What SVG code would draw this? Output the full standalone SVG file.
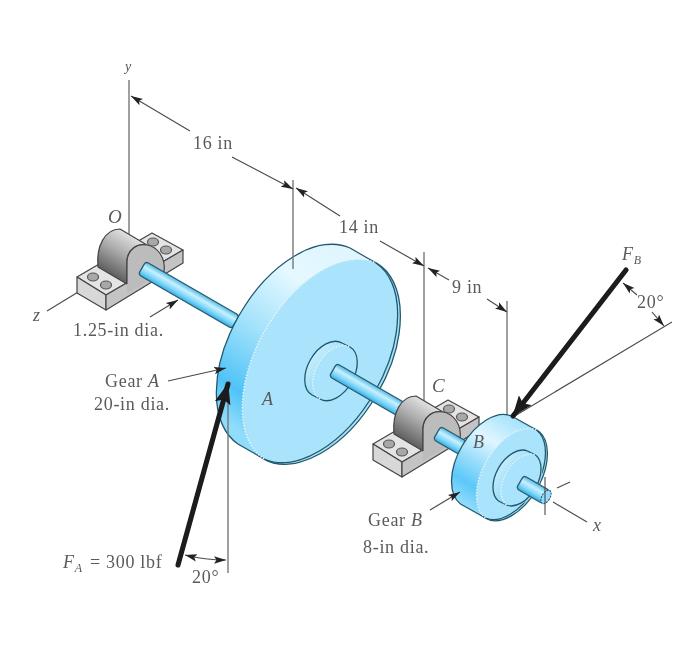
<svg xmlns="http://www.w3.org/2000/svg" width="679" height="658" viewBox="0 0 679 658">
<style>
.t{font-family:"Liberation Serif",serif;font-size:18px;letter-spacing:.7px;fill:#5a5a5a}
.i{font-style:italic}
.sub{font-size:12px;font-style:italic}
.thin{fill:none;stroke:#4a4a4a;stroke-width:1.1}
.ext{fill:none;stroke:#777;stroke-width:1.4}
.force{fill:none;stroke:#1a1a1a;stroke-width:5;stroke-linecap:round}
.shaft{fill:url(#shaftG);stroke:#2b5c6e;stroke-width:1.3}
.edge{stroke:#22596d;stroke-width:1.3}
.dot{fill:none;stroke:#e8f3f6;stroke-width:1.5;stroke-dasharray:1.5 1.5}
.face{fill:#a9e4fc}
.br{stroke:#444;stroke-width:1.2;stroke-linejoin:round}
.hole{fill:#a8a8a8;stroke:#555;stroke-width:1.2}
</style>
<defs>
<filter id="soft" x="0" y="0" width="100%" height="100%"><feGaussianBlur stdDeviation="0.55"/></filter>
<marker id="a" markerWidth="13" markerHeight="9" refX="12" refY="4.5" orient="auto-start-reverse" markerUnits="userSpaceOnUse"><path d="M0,0.8 L12,4.5 L0,8.2 L2.5,4.5 Z" fill="#222"/></marker>
<marker id="f" markerWidth="22" markerHeight="16" refX="20" refY="8" orient="auto" markerUnits="userSpaceOnUse"><path d="M0,0 L21,8 L0,16 L4,8 Z" fill="#1a1a1a"/></marker>
<linearGradient id="shaftG" x1="0" y1="0" x2="0" y2="1"><stop offset="0" stop-color="#4fb9e6"/><stop offset=".35" stop-color="#c9f1ff"/><stop offset=".7" stop-color="#7ed6fa"/><stop offset="1" stop-color="#36aee2"/></linearGradient>
<linearGradient id="rimA" gradientUnits="userSpaceOnUse" x1="345" y1="250" x2="225" y2="420"><stop offset="0" stop-color="#dff6ff"/><stop offset=".25" stop-color="#e4f8ff"/><stop offset=".55" stop-color="#a4e2fb"/><stop offset=".85" stop-color="#4fc3f7"/><stop offset="1" stop-color="#8fdcfb"/></linearGradient>
<linearGradient id="rimB" gradientUnits="userSpaceOnUse" x1="510" y1="418" x2="458" y2="500"><stop offset="0" stop-color="#a9e4fc"/><stop offset=".3" stop-color="#dff6ff"/><stop offset=".8" stop-color="#5cc8f8"/><stop offset="1" stop-color="#8fdcfb"/></linearGradient>
<linearGradient id="hub" x1="0" y1="0" x2="1" y2="1"><stop offset="0" stop-color="#e6f8ff"/><stop offset="1" stop-color="#58c4f4"/></linearGradient>
<linearGradient id="cap" gradientUnits="userSpaceOnUse" x1="130" y1="232" x2="106" y2="272"><stop offset="0" stop-color="#e8e8e8"/><stop offset=".5" stop-color="#a8a8a8"/><stop offset="1" stop-color="#5e5e5e"/></linearGradient>
<g id="bearing">
<path class="br" fill="#e4e4e4" d="M77,277 L152,233 L183,250 L106,295 Z"/>
<path class="br" fill="#d8d8d8" d="M77,277 L106,295 L106,310 L77,293 Z"/>
<path class="br" fill="#c4c4c4" d="M106,295 L183,250 L183,263 L106,310 Z"/>
<ellipse class="hole" cx="153" cy="242" rx="5.5" ry="4"/><ellipse class="hole" cx="166" cy="250" rx="5.5" ry="4"/>
<ellipse class="hole" cx="93" cy="277" rx="5.5" ry="4"/><ellipse class="hole" cx="106" cy="285" rx="5.5" ry="4"/>
<path class="br" fill="url(#cap)" d="M127,284 L98,267 C96,246 105,229 120,229 L147,245 C137,243 127,250 127,262 Z"/>
<path fill="#bcbcbc" d="M127,284 L127,262 C127,250 137,243 147,245 C158,247 166,258 164,272 L127,294 Z"/>
<path class="br" fill="none" d="M127,284 L127,262 C127,250 137,243 147,245 C158,247 166,258 164,272"/>
</g>
</defs>
<rect width="679" height="658" fill="#fff"/>
<g filter="url(#soft)">

<g id="connectors-back">
<path class="ext" d="M129,80 V236"/>
<path class="thin" d="M47,311 L93,283"/>
<path class="ext" d="M424,252 V402"/>
<path class="ext" d="M507,301 V420"/>
<path class="thin" d="M513,417 L672,322"/>
</g>

<g id="bearing-O"><use href="#bearing"/><rect class="shaft" x="0" y="-7.5" width="108" height="15" rx="3" transform="translate(142,268) rotate(30)"/></g>

<g id="gear-A">
<ellipse class="face edge" cx="320" cy="361" rx="66" ry="113" transform="rotate(30 320 361)"/>
<path fill="url(#rimA)" d="M350,248 L376,263 A66,113 30 0 0 264,459 L238,444 A66,113 30 0 1 350,248 Z"/>
<path fill="none" class="edge" d="M350,248 L376,263 A66,113 30 0 1 264,459 L238,444 A66,113 30 0 1 350,248 Z"/>
<path class="dot" d="M264,459 A66,113 30 0 1 376,263"/>
<path fill="url(#hub)" d="M342,343 L350,347 A19,30 30 0 0 320,399 L312,395 A19,30 30 0 1 342,343 Z"/>
<ellipse class="face" cx="335" cy="373" rx="19" ry="30" transform="rotate(30 335 373)"/>
<path fill="none" class="edge" d="M342,343 L350,347 A19,30 30 0 1 320,399 L312,395 A19,30 30 0 1 342,343 Z"/>
<path class="dot" d="M320,399 A19,30 30 0 1 350,347"/>
<text class="t i" x="262" y="405">A</text>
</g>

<g id="shaft-mid"><rect class="shaft" x="0" y="-7.5" width="92" height="15" rx="3" transform="translate(333,370) rotate(30)"/></g>

<g id="bearing-C"><use href="#bearing" transform="translate(296,167)"/></g>
<g id="shaft-C"><rect class="shaft" x="0" y="-7.5" width="40" height="15" rx="3" transform="translate(437,433) rotate(30)"/></g>

<g id="gear-B">
<ellipse class="face edge" cx="511" cy="474" rx="30" ry="51" transform="rotate(30 511 474)"/>
<path fill="url(#rimB)" d="M511.5,416 L536.5,430 A30,51 30 0 0 485.5,518 L460.5,504 A30,51 30 0 1 511.5,416 Z"/>
<path fill="none" class="edge" d="M511.5,416 L536.5,430 A30,51 30 0 1 485.5,518 L460.5,504 A30,51 30 0 1 511.5,416 Z"/>
<path class="dot" d="M485.5,518 A30,51 30 0 1 536.5,430"/>
<path fill="url(#hub)" d="M527.5,451 L535.5,455 A18,29 30 0 0 506.5,505 L498.5,501 A18,29 30 0 1 527.5,451 Z"/>
<ellipse class="face" cx="521" cy="480" rx="18" ry="29" transform="rotate(30 521 480)"/>
<path fill="none" class="edge" d="M527.5,451 L535.5,455 A18,29 30 0 1 506.5,505 L498.5,501 A18,29 30 0 1 527.5,451 Z"/>
<path class="dot" d="M506.5,505 A18,29 30 0 1 535.5,455"/>
<text class="t i" x="473" y="448">B</text>
</g>
<g id="shaft-end"><rect class="shaft" x="0" y="-7.5" width="30" height="15" rx="3" transform="translate(520,482) rotate(30)"/>
<ellipse fill="#8fdcfb" stroke="#24505f" stroke-width="1" stroke-dasharray="2 1" cx="546" cy="497" rx="4" ry="7.5" transform="rotate(30 546 497)"/></g>

<g id="connectors">
<path class="ext" d="M293,180 V269"/>
<path class="ext" d="M228,392 V573"/>
<path class="thin" d="M545,477 V515 M557,488 L570,482 M553,502 L587,522"/>
<path class="thin" marker-start="url(#a)" d="M131,96 L190,131"/>
<path class="thin" marker-end="url(#a)" d="M232,157 L293,189"/>
<path class="thin" marker-start="url(#a)" d="M296,188 L340,216"/>
<path class="thin" marker-end="url(#a)" d="M380,241 L424,266"/>
<path class="thin" marker-start="url(#a)" d="M428,268 L449,280"/>
<path class="thin" marker-end="url(#a)" d="M487,299 L507,312"/>
<path class="thin" marker-end="url(#a)" d="M150,317 L178,300"/>
<path class="thin" marker-end="url(#a)" d="M168,381 L226,368"/>
<path class="thin" marker-end="url(#a)" d="M430,510 L460,492"/>
<path class="thin" marker-start="url(#a)" marker-end="url(#a)" d="M185,555 Q205,560 226,560"/>
<path class="thin" marker-start="url(#a)" d="M623,283 L637,295"/>
<path class="thin" marker-end="url(#a)" d="M652,312 L664,326"/>
<path class="force" marker-end="url(#f)" d="M178,565 L228,384"/>
<path class="force" marker-end="url(#f)" d="M626,270 L513,416"/>
</g>

<g id="labels">
<text class="t i" x="125" y="71" style="font-size:14px">y</text>
<text class="t i" x="108" y="223" style="font-size:19px">O</text>
<text class="t i" x="33" y="321">z</text>
<text class="t" x="193" y="149">16 in</text>
<text class="t" x="339" y="233">14 in</text>
<text class="t" x="452" y="293">9 in</text>
<text class="t" x="73" y="336">1.25-in dia.</text>
<text class="t" x="105" y="387">Gear <tspan class="i">A</tspan></text>
<text class="t" x="94" y="410">20-in dia.</text>
<text class="t i" x="432" y="392" style="font-size:19px">C</text>
<text class="t" x="368" y="526">Gear <tspan class="i">B</tspan></text>
<text class="t" x="363" y="553">8-in dia.</text>
<text class="t i" x="593" y="531">x</text>
<text class="t" x="63" y="568"><tspan class="i">F</tspan><tspan class="sub" dy="4">A</tspan><tspan dy="-4" x="90">= 300 lbf</tspan></text>
<text class="t" x="192" y="583">20°</text>
<text class="t" x="637" y="308">20°</text>
<text class="t" x="622" y="260"><tspan class="i">F</tspan><tspan class="sub" dy="4">B</tspan></text>
</g>
</g>
</svg>
